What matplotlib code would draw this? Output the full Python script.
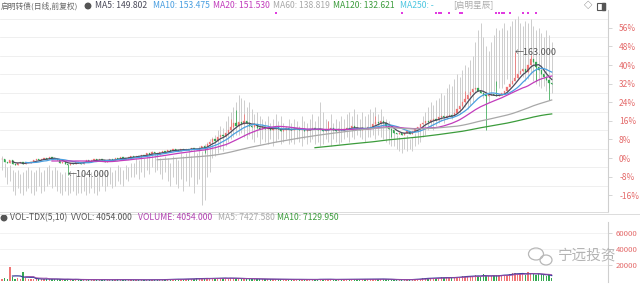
import numpy as np
import pandas as pd
import matplotlib
matplotlib.use('Agg')
import matplotlib.pyplot as plt
from matplotlib.patches import Ellipse, Rectangle

plt.rcParams['font.family'] = ['Noto Sans CJK SC', 'DejaVu Sans']

# daily closes of the bond, % vs. base price (about 112)
close = [
    -0.5, -1.5, -2.0, -1.0, -2.5, -3.0, -2.0, -1.5, -2.5, -2.0,
    -2.0, -1.5, -1.0, -0.5, -1.0, -0.5, 0.0, -0.5, 0.5, 0.0,
    -0.5, -1.0, -2.0, -1.5, -2.5, -3.0, -2.0, -2.5, -1.5, -2.0,
    -2.5, -1.5, -1.0, -1.5, -1.0, -0.5, -1.0, -0.5, -1.0, -1.5,
    -1.0, -0.5, -1.0, 0.0, -0.5, 0.5, 0.0, -0.5, 0.5, 1.0,
    0.5, 1.0, 0.5, 1.5, 1.0, 2.0, 1.5, 2.5, 2.0, 1.5,
    2.5, 3.0, 2.5, 3.5, 3.0, 4.0, 3.5, 3.0, 4.0, 3.5,
    4.0, 3.5, 4.5, 4.0, 3.5, 4.5, 5.0, 4.5, 6.0, 7.0,
    8.0, 7.5, 9.0, 10.0, 9.5, 11.0, 12.0, 13.5, 15.0, 14.0,
    15.5, 14.5, 16.0, 15.0, 14.0, 13.5, 14.5, 13.0, 12.5, 13.5,
    12.5, 13.0, 12.0, 12.5, 13.5, 12.5, 11.5, 12.0, 13.0, 12.5,
    12.0, 12.5, 13.0, 12.0, 12.5, 11.5, 12.0, 12.5, 13.0, 12.5,
    12.0, 12.5, 11.5, 12.0, 12.5, 13.0, 12.0, 11.5, 12.5, 12.0,
    12.5, 13.0, 12.5, 14.0, 13.0, 12.5, 12.0, 13.0, 12.5, 13.5,
    13.5, 14.5, 15.5, 15.0, 16.0, 15.0, 14.0, 12.5, 12.0, 11.0,
    10.5, 11.0, 10.0, 11.0, 11.5, 10.5, 11.5, 12.5, 13.5, 14.5,
    15.0, 16.0, 15.5, 16.5, 17.0, 16.5, 17.5, 18.0, 17.5, 18.0,
    18.5, 18.0, 19.5, 21.0, 22.5, 24.0, 25.5, 27.0, 28.5, 29.5,
    30.0, 29.0, 28.0, 27.0, 26.5, 27.0, 27.5, 27.0, 26.5, 27.0,
    28.0, 29.0, 30.5, 32.0, 33.0, 34.5, 36.0, 37.5, 38.5, 37.0,
    40.0, 42.5, 41.5, 39.0, 38.0, 36.0, 35.0, 33.5, 32.5, 32.0,
]

# bars with visible shadows (index: value)
wick_hi = {87: 17.0, 89: 20.5, 92: 19.0, 124: 16.0, 142: 18.0,
           176: 29.0, 188: 33.0, 195: 45.5, 201: 44.5}
wick_lo = {25: -7.1, 77: 2.0, 148: 9.0, 184: 12.0, 203: 33.0, 208: 25.0}

# overlay stock [启明星辰], high / low in %
gray_hi = [
    1, -2, -4, -3, -5, -6, -5, -7, -6, -5,
    -4, -5, -6, -5, -4, -6, -5, -4, -3, -5,
    -4, -5, -6, -7, -6, -8, -7, -6, -7, -8,
    -7, -6, -8, -7, -6, -7, -8, -6, -5, -7,
    -5, -4, -6, -5, -3, -4, -5, -3, -4, -2,
    -2, 0, -1, 1, 0, 2, 1, 3, 2, 1,
    0, -1, 1, 0, -2, 1, 0, -1, 2, 1,
    2, 3, 1, 4, 2, 5, 3, 6, 7, 8,
    9, 10, 12, 14, 13, 16, 18, 20, 22, 24,
    27, 26, 25, 22, 24, 21, 19, 20, 18, 17,
    16, 18, 15, 17, 19, 16, 18, 15, 14, 17,
    15, 17, 16, 14, 18, 16, 15, 17, 19, 16,
    18, 24, 20, 17, 16, 19, 15, 17, 16, 18,
    17, 19, 20, 18, 21, 19, 17, 20, 18, 19,
    21, 20, 22, 19, 21, 18, 17, 16, 14, 12,
    10, 9, 8, 9, 10, 8, 9, 11, 12, 14,
    18, 20, 22, 24, 23, 25, 26, 28, 27, 30,
    32, 31, 34, 36, 35, 38, 40, 39, 42, 44,
    50, 55, 58, 52, 48, 46, 50, 53, 56, 55,
    56, 58, 55, 57, 59, 60, 61, 58, 57, 59,
    58, 60, 57, 55, 56, 54, 52, 55, 53, 50,
]
gray_lo = [
    -5, -8, -11, -10, -14, -16, -13, -15, -16, -14,
    -13, -15, -16, -14, -12, -15, -14, -12, -11, -13,
    -12, -14, -15, -16, -14, -16, -15, -14, -16, -15,
    -15, -14, -16, -15, -13, -15, -16, -14, -12, -14,
    -12, -11, -13, -12, -10, -11, -12, -9, -10, -8,
    -8, -7, -9, -6, -8, -5, -7, -4, -6, -5,
    -7, -9, -6, -10, -12, -8, -11, -13, -9, -14,
    -10, -12, -8, -15, -11, -9, -20, -18, -8, -6,
    0, 1, 2, 4, 3, 5, 7, 8, 9, 10,
    10, 11, 9, 8, 10, 8, 7, 9, 6, 8,
    7, 6, 8, 5, 7, 8, 6, 7, 8, 6,
    7, 6, 8, 7, 5, 8, 6, 7, 8, 6,
    7, 5, 6, 8, 7, 5, 8, 7, 6, 7,
    8, 9, 7, 9, 8, 10, 9, 8, 7, 9,
    9, 10, 8, 10, 9, 8, 7, 6, 5, 5,
    4, 3, 2, 4, 3, 4, 3, 5, 6, 7,
    9, 10, 12, 13, 12, 14, 15, 16, 15, 17,
    18, 17, 19, 20, 19, 21, 22, 21, 23, 24,
    28, 30, 29, 26, 25, 24, 27, 29, 31, 30,
    30, 32, 34, 31, 33, 35, 34, 36, 35, 33,
    34, 36, 33, 32, 31, 30, 31, 29, 30, 28,
]

# volume, thousands
volume_k = [
    2, 4, 3, 17, 5, 3, 4, 2, 11, 4,
    3, 3, 2.5, 3, 2.5, 2, 2.5, 3, 2, 2.5,
    2, 2.5, 2, 1.5, 2, 2.5, 2, 1.5, 2, 1.8,
    1.5, 2, 1.8, 1.5, 1.6, 2, 1.5, 1.4, 1.8, 1.6,
    1.5, 1.4, 1.6, 1.8, 2, 1.6, 1.5, 1.4, 1.6, 1.5,
    1.4, 1.5, 1.6, 1.5, 1.4, 1.3, 1.5, 1.4, 1.6, 1.5,
    1.6, 1.8, 2.0, 2.2, 2.0, 1.8, 2.4, 2.6, 2.2, 2.0,
    2.5, 2.8, 3.0, 2.6, 3.2, 3.0, 2.8, 3.4, 3.2, 3.0,
    3.5, 3.8, 3.2, 4.0, 3.6, 3.4, 3.0, 3.8, 3.5, 3.2,
    3.0, 2.8, 3.2, 2.6, 2.5, 2.8, 2.4, 2.6, 2.2, 2.4,
    2.2, 2.0, 2.4, 2.1, 2.0, 2.3, 2.0, 1.9, 2.2, 2.0,
    1.8, 2.0, 2.2, 1.9, 2.0, 1.8, 1.7, 2.0, 1.9, 1.8,
    2.0, 2.6, 2.2, 2.0, 1.9, 2.0, 1.8, 1.9, 2.1, 2.0,
    2.0, 2.2, 2.0, 2.4, 2.1, 2.0, 1.9, 2.2, 2.0, 2.1,
    2.2, 2.4, 2.6, 2.3, 2.5, 2.2, 2.0, 1.9, 1.8, 1.7,
    1.6, 1.7, 1.5, 1.6, 1.8, 1.7, 2.0, 2.4, 2.6, 3.0,
    3.2, 3.5, 3.8, 3.4, 4.0, 3.6, 4.2, 4.5, 4.0, 4.4,
    4.2, 4.0, 4.6, 5.0, 5.5, 6.0, 5.4, 6.2, 5.8, 6.5,
    7.0, 6.0, 5.5, 8.5, 6.2, 5.8, 6.0, 6.6, 7.2, 7.0,
    7.5, 8.0, 7.2, 8.8, 9.5, 10.5, 9.0, 8.4, 9.2, 8.0,
    10.8, 9.5, 8.6, 7.8, 9.0, 8.2, 7.5, 6.8, 7.6, 4.054,
]

signal_bars = [104, 152, 165, 166, 167, 170, 174, 175, 188, 189, 190, 191,
               193, 198, 200, 203]
low_bar, low_label = 25, '104.000'
high_bar, high_label = 195, '163.000'

pct_ticks = [56, 48, 40, 32, 24, 16, 8, 0, -8, -16]
vol_ticks = [20000, 40000, 60000]

ma_periods = [5, 10, 20, 60, 120]
ma_colors = ['#4a4a5a', '#4a9fe0', '#c23cbc', '#a8a8a8', '#3c9c3c']

RED = '#f07575'
GREEN = '#35a852'

close = np.array(close)
x = np.arange(len(close))
opens = np.r_[close[0], close[:-1]]
hi = np.maximum(opens, close)
lo = np.minimum(opens, close)
for i, v in wick_hi.items():
    hi[i] = v
for i, v in wick_lo.items():
    lo[i] = v
up = close >= opens
cols = np.where(up, RED, GREEN)

fig = plt.figure(figsize=(6.4, 2.86), dpi=100)
fig.patch.set_facecolor('white')

H = 286.0
# price panel: y = 10..212 px, width to the axis line at x = 608 px
ax = fig.add_axes([0, 1 - 212 / H, 608 / 640, 202 / H])
axv = fig.add_axes([0, 1 - 282 / H, 608 / 640, 60 / H])

for a in (ax, axv):
    a.set_xlim(-0.76, 230.4)
    a.set_facecolor('none')
    for s in ('left', 'top', 'bottom'):
        a.spines[s].set_visible(False)
    a.spines['right'].set_color('#cfcfcf')
    a.spines['right'].set_linewidth(0.8)
    a.yaxis.tick_right()
    a.set_xticks([])
    a.tick_params(axis='y', length=3, width=0.6, color='#cfcfcf',
                  labelcolor='#e46a6a', labelsize=6, pad=5)
axv.tick_params(axis='y', labelsize=5.6, pad=2.5)

ax.set_ylim(-23.2, 63.7)
ax.set_yticks(pct_ticks)
ax.set_yticklabels(['{}%'.format(t) for t in pct_ticks])
for t in pct_ticks:
    ax.axhline(t + 4, color='#ededed', lw=0.6, zorder=0)
ax.spines['bottom'].set_visible(True)
ax.spines['bottom'].set_color('#dcdcdc')
ax.spines['bottom'].set_linewidth(0.7)

# overlay stock
ax.vlines(x, gray_lo, gray_hi, color='#cdcdcd', lw=0.7, zorder=1)

# candles
ax.vlines(x, lo, hi, colors=cols, lw=0.55, zorder=2)
ax.bar(x, close - opens, bottom=opens, width=0.45, color=cols,
       edgecolor=cols, linewidth=0.2, zorder=2)

cs = pd.Series(close)
for n, c in zip(ma_periods, ma_colors):
    ax.plot(x, cs.rolling(n).mean(), color=c, lw=0.9, zorder=3)

ax.scatter(signal_bars, [62.3] * len(signal_bars), marker='s', s=2.2,
           color='#e03ce0', linewidths=0, zorder=4)

ax.text(low_bar, wick_lo[low_bar], '\u2190' + low_label, fontsize=6.5,
        color='#555555', ha='left', va='center', zorder=5)
ax.text(high_bar, wick_hi[high_bar], '\u2190' + high_label, fontsize=6.5,
        color='#555555', ha='left', va='center', zorder=5)

# volume panel
vol = np.array(volume_k) * 1000
axv.set_ylim(-1250, 73750)
axv.set_yticks(vol_ticks)
axv.set_yticklabels([str(t) for t in vol_ticks])
for t in vol_ticks:
    axv.axhline(t, color='#f0f0f0', lw=0.6, zorder=0)
axv.bar(x, vol, width=0.5, color=cols, linewidth=0, zorder=2)
vs = pd.Series(vol)
axv.plot(x, vs.rolling(5).mean(), color='#3a3f9a', lw=0.9, zorder=3)
axv.plot(x, vs.rolling(10).mean(), color='#a04aa8', lw=0.6, zorder=3)

# text / decoration layer in pixel coordinates
ov = fig.add_axes([0, 0, 1, 1])
ov.set_xlim(0, 640)
ov.set_ylim(H, 0)
ov.axis('off')
ov.patch.set_alpha(0)

fs = 6.2
ov.text(1, 6, '启明转债(日线,前复权)', fontsize=5.6, color='#666666',
        ha='left', va='center')
hdr = [
    (95, 'MA5: 149.802', '#4a4a5a'),
    (153, 'MA10: 153.475', '#4a9fe0'),
    (213, 'MA20: 151.530', '#c23cbc'),
    (273, 'MA60: 138.819', '#a8a8a8'),
    (333, 'MA120: 132.621', '#3c9c3c'),
    (400, 'MA250: -', '#4cc6e0'),
    (453, '[启明星辰]', '#aaaaaa'),
]
for px, s, c in hdr:
    ov.text(px, 6, s, fontsize=fs, color=c, ha='left', va='center')
ov.add_patch(Ellipse((88, 6), 5.5, 5.5, color='#555555'))
ov.text(588, 6, '\u25c7', fontsize=6, color='#666666', ha='center', va='center')
ov.add_patch(Rectangle((597, 2.5), 8, 7, fill=False, ec='#555555', lw=0.8))
ov.add_patch(Rectangle((602, 2.5), 3, 7, color='#555555'))

vhdr = [
    (10, 'VOL-TDX(5,10)  VVOL: 4054.000', '#555555'),
    (138, 'VOLUME: 4054.000', '#b040b0'),
    (218, 'MA5: 7427.580', '#aaaaaa'),
    (277, 'MA10: 7129.950', '#3c9c3c'),
]
for px, s, c in vhdr:
    ov.text(px, 218, s, fontsize=fs, color=c, ha='left', va='center')
ov.add_patch(Ellipse((4, 218), 5.5, 5.5, color='#555555'))
ov.plot([0, 640], [214, 214], color='#dcdcdc', lw=0.7)

# watermark
ov.add_patch(Ellipse((536, 254), 15, 12, fill=False, ec='#b8b8b8', lw=0.9))
ov.add_patch(Ellipse((546, 260), 12, 10, fill=False, ec='#b8b8b8', lw=0.9,
                     facecolor='white'))
ov.text(558, 255, '宁远投资', fontsize=10.5, color='#b4b4b4', ha='left',
        va='center')

fig.savefig('out.png', dpi=100, facecolor='white')
